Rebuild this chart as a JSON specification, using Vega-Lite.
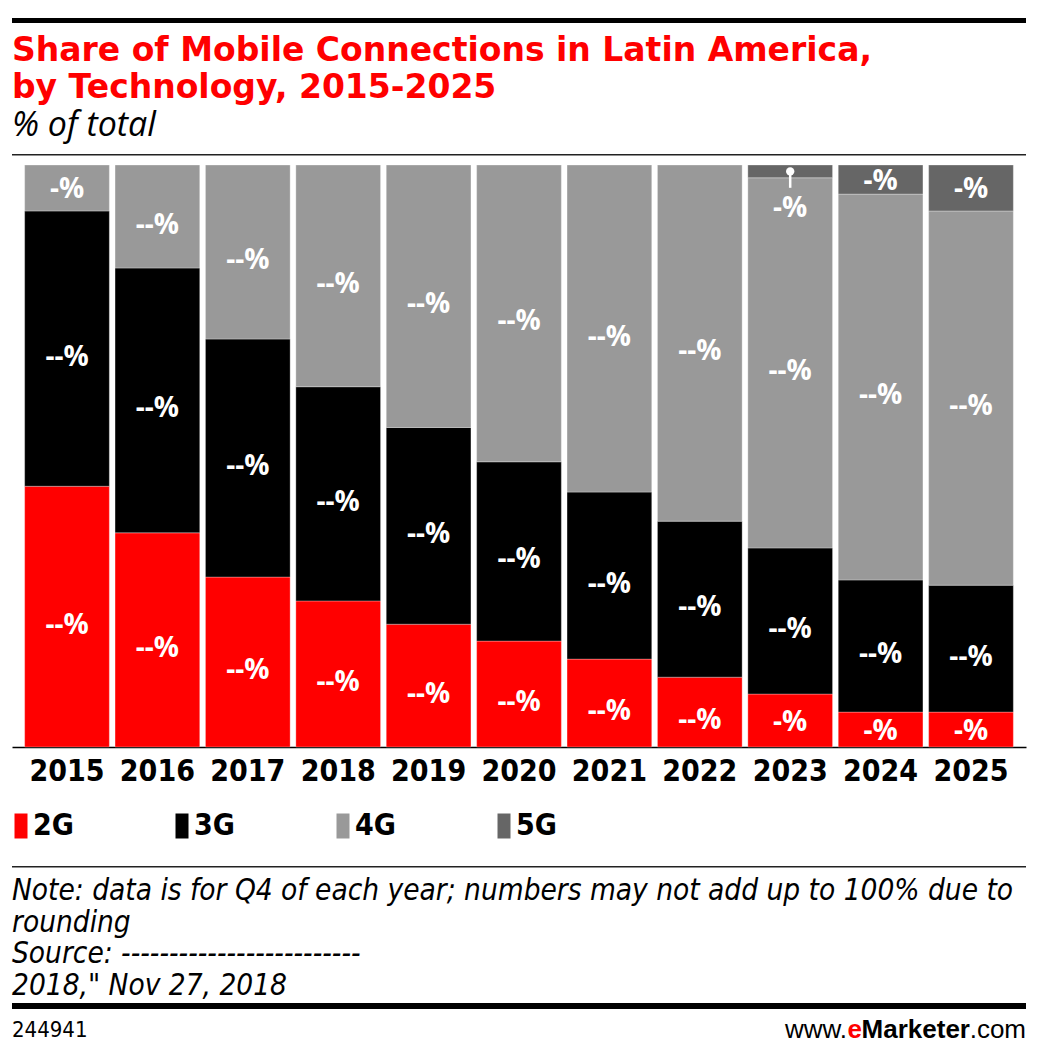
{
  "$schema": "https://vega.github.io/schema/vega-lite/v6.json",
  "padding": {"left": 12, "top": 14, "right": 12, "bottom": 0},
  "autosize": {"type": "pad"},
  "background": "#ffffff",
  "spacing": 8,
  "resolve": {"scale": {"color": "independent"}, "legend": {"color": "independent"}},
  "config": {"view": {"stroke": null}, "font": "'DejaVu Sans Condensed', Roboto, sans-serif"},
  "datasets": {
    "shares": [
      {"year": "2015", "tech": "2G", "share": 44.8, "label": "--%"},
      {"year": "2015", "tech": "3G", "share": 47.3, "label": "--%"},
      {"year": "2015", "tech": "4G", "share": 7.9, "label": "-%"},
      {"year": "2016", "tech": "2G", "share": 36.8, "label": "--%"},
      {"year": "2016", "tech": "3G", "share": 45.5, "label": "--%"},
      {"year": "2016", "tech": "4G", "share": 17.7, "label": "--%"},
      {"year": "2017", "tech": "2G", "share": 29.2, "label": "--%"},
      {"year": "2017", "tech": "3G", "share": 40.9, "label": "--%"},
      {"year": "2017", "tech": "4G", "share": 29.9, "label": "--%"},
      {"year": "2018", "tech": "2G", "share": 25.1, "label": "--%"},
      {"year": "2018", "tech": "3G", "share": 36.8, "label": "--%"},
      {"year": "2018", "tech": "4G", "share": 38.1, "label": "--%"},
      {"year": "2019", "tech": "2G", "share": 21.1, "label": "--%"},
      {"year": "2019", "tech": "3G", "share": 33.8, "label": "--%"},
      {"year": "2019", "tech": "4G", "share": 45.1, "label": "--%"},
      {"year": "2020", "tech": "2G", "share": 18.2, "label": "--%"},
      {"year": "2020", "tech": "3G", "share": 30.8, "label": "--%"},
      {"year": "2020", "tech": "4G", "share": 51.0, "label": "--%"},
      {"year": "2021", "tech": "2G", "share": 15.1, "label": "--%"},
      {"year": "2021", "tech": "3G", "share": 28.7, "label": "--%"},
      {"year": "2021", "tech": "4G", "share": 56.2, "label": "--%"},
      {"year": "2022", "tech": "2G", "share": 12.0, "label": "--%"},
      {"year": "2022", "tech": "3G", "share": 26.8, "label": "--%"},
      {"year": "2022", "tech": "4G", "share": 61.2, "label": "--%"},
      {"year": "2023", "tech": "2G", "share": 9.1, "label": "-%"},
      {"year": "2023", "tech": "3G", "share": 25.1, "label": "--%"},
      {"year": "2023", "tech": "4G", "share": 63.6, "label": "--%"},
      {"year": "2023", "tech": "5G", "share": 2.2, "label": "-%"},
      {"year": "2024", "tech": "2G", "share": 6.0, "label": "-%"},
      {"year": "2024", "tech": "3G", "share": 22.7, "label": "--%"},
      {"year": "2024", "tech": "4G", "share": 66.3, "label": "--%"},
      {"year": "2024", "tech": "5G", "share": 5.0, "label": "-%"},
      {"year": "2025", "tech": "2G", "share": 6.0, "label": "-%"},
      {"year": "2025", "tech": "3G", "share": 21.8, "label": "--%"},
      {"year": "2025", "tech": "4G", "share": 64.3, "label": "--%"},
      {"year": "2025", "tech": "5G", "share": 7.9, "label": "-%"}
    ]
  },
  "vconcat": [
    {
      "width": 1014,
      "height": 5,
      "view": {"fill": "#000000", "stroke": null},
      "data": {"values": [{}]},
      "mark": {"type": "text", "text": ""}
    },
    {
      "width": 1014,
      "height": 1.5,
      "view": {"fill": "#222222", "stroke": null},
      "title": {
        "text": ["Share of Mobile Connections in Latin America,", "by Technology, 2015-2025"],
        "subtitle": "% of total",
        "anchor": "start",
        "font": "DejaVu Sans",
        "fontSize": 33,
        "fontWeight": "bold",
        "color": "#ff0000",
        "lineHeight": 37,
        "subtitleFont": "Open Sans",
        "subtitleFontStyle": "italic",
        "subtitleFontSize": 34,
        "subtitleColor": "#000000",
        "subtitlePadding": 4,
        "offset": 11
      },
      "data": {"values": [{}]},
      "mark": {"type": "text", "text": "", "fontSize": 1}
    },
    {
      "width": 1014,
      "height": 582,
      "data": {"name": "shares"},
      "encoding": {
        "x": {
          "field": "year",
          "type": "nominal",
          "scale": {"paddingInner": 0.063, "paddingOuter": 0.14},
          "axis": {
            "title": null,
            "labelAngle": 0,
            "ticks": false,
            "domainColor": "#000000",
            "domainWidth": 1.5,
            "labelFont": "'DejaVu Sans Condensed', Roboto, sans-serif",
            "labelFontWeight": "bold",
            "labelFontSize": 30,
            "labelColor": "#000000",
            "labelPadding": 9
          }
        }
      },
      "layer": [
        {
          "mark": {"type": "bar", "stroke": "#ffffff", "strokeWidth": 0.6, "strokeOpacity": 0.5},
          "encoding": {
            "y": {"field": "share", "type": "quantitative", "stack": "normalize", "axis": null, "scale": {"domain": [0, 1], "nice": false}},
            "order": {"field": "tech", "sort": "ascending"},
            "color": {
              "field": "tech",
              "type": "nominal",
              "scale": {"domain": ["2G", "3G", "4G", "5G"], "range": ["#ff0000", "#000000", "#999999", "#666666"]},
              "legend": {
                "title": null,
                "orient": "bottom",
                "direction": "horizontal",
                "columns": 4,
                "columnPadding": 99,
                "offset": 25,
                "symbolType": "M-1,-1H0.04V1H-1Z",
                "symbolSize": 625,
                "symbolStrokeWidth": 0,
                "symbolOpacity": 1,
                "labelOffset": -9,
                "labelFont": "'DejaVu Sans Condensed', Roboto, sans-serif",
                "labelFontWeight": "bold",
                "labelFontSize": 30,
                "labelColor": "#000000"
              }
            }
          }
        },
        {
          "transform": [
            {"stack": "share", "groupby": ["year"], "sort": [{"field": "tech"}], "offset": "normalize", "as": ["y0", "y1"]},
            {"calculate": "(datum.y0 + datum.y1) / 2", "as": "ymid"},
            {"filter": "datum.share >= 10"}
          ],
          "mark": {"type": "text", "font": "Open Sans", "fontWeight": "bold", "fontSize": 28, "color": "#ffffff", "baseline": "middle", "dy": 9},
          "encoding": {
            "y": {"field": "ymid", "type": "quantitative"},
            "text": {"field": "label"}
          }
        },
        {
          "transform": [
            {"stack": "share", "groupby": ["year"], "sort": [{"field": "tech"}], "offset": "normalize", "as": ["y0", "y1"]},
            {"calculate": "(datum.y0 + datum.y1) / 2", "as": "ymid"},
            {"filter": "datum.share < 10 && !(datum.year == '2023' && datum.tech == '5G')"}
          ],
          "mark": {"type": "text", "font": "Open Sans", "fontWeight": "bold", "fontSize": 28, "color": "#ffffff", "baseline": "middle", "dy": 2},
          "encoding": {
            "y": {"field": "ymid", "type": "quantitative"},
            "text": {"field": "label"}
          }
        },
        {
          "transform": [
            {"stack": "share", "groupby": ["year"], "sort": [{"field": "tech"}], "offset": "normalize", "as": ["y0", "y1"]},
            {"calculate": "(datum.y0 + datum.y1) / 2", "as": "ymid"},
            {"filter": "datum.year == '2023' && datum.tech == '5G'"}
          ],
          "layer": [
            {
              "mark": {"type": "rule", "color": "#ffffff", "strokeWidth": 2.5, "y2Offset": 10},
              "encoding": {
                "y": {"field": "ymid", "type": "quantitative"},
                "y2": {"field": "y0"}
              }
            },
            {
              "mark": {"type": "point", "filled": true, "color": "#ffffff", "opacity": 1, "size": 70},
              "encoding": {"y": {"field": "ymid", "type": "quantitative"}}
            },
            {
              "mark": {"type": "text", "font": "Open Sans", "fontWeight": "bold", "fontSize": 28, "color": "#ffffff", "baseline": "middle", "dy": 38},
              "encoding": {
                "y": {"field": "ymid", "type": "quantitative"},
                "text": {"field": "label"}
              }
            }
          ]
        }
      ]
    },
    {
      "width": 1014,
      "height": 1.5,
      "view": {"fill": "#222222", "stroke": null},
      "title": {"text": " ", "fontSize": 2, "offset": 14},
      "data": {"values": [{}]},
      "mark": {"type": "text", "text": "", "fontSize": 1}
    },
    {
      "width": 1014,
      "height": 6,
      "view": {"fill": "#000000", "stroke": null},
      "title": {
        "text": [
          "Note: data is for Q4 of each year; numbers may not add up to 100% due to",
          "rounding",
          "Source: -------------------------",
          "2018,\" Nov 27, 2018"
        ],
        "anchor": "start",
        "font": "'DejaVu Sans Condensed', Roboto, sans-serif",
        "fontStyle": "italic",
        "fontWeight": "normal",
        "fontSize": 29.5,
        "lineHeight": 31.5,
        "color": "#000000",
        "offset": 2
      },
      "data": {"values": [{}]},
      "mark": {"type": "text", "text": "", "fontSize": 1}
    },
    {
      "width": 1014,
      "height": 20,
      "data": {"values": [{}]},
      "encoding": {},
      "layer": [
        {
          "mark": {"type": "text", "text": "244941", "align": "left", "baseline": "middle", "font": "'DejaVu Sans Condensed', Roboto, sans-serif", "fontSize": 22, "color": "#000000"},
          "encoding": {"x": {"datum": 0, "type": "quantitative", "scale": {"domain": [0, 1]}, "axis": null}}
        },
        {
          "mark": {"type": "text", "text": ".com", "align": "right", "baseline": "middle", "font": "Liberation Sans", "fontSize": 26, "color": "#000000"},
          "encoding": {"x": {"datum": 1, "type": "quantitative"}}
        },
        {
          "mark": {"type": "text", "text": "Marketer", "align": "right", "baseline": "middle", "font": "Liberation Sans", "fontWeight": "bold", "fontSize": 26, "color": "#000000", "dx": -56},
          "encoding": {"x": {"datum": 1, "type": "quantitative"}}
        },
        {
          "mark": {"type": "text", "text": "e", "align": "right", "baseline": "middle", "font": "Liberation Sans", "fontWeight": "bold", "fontSize": 26, "color": "#ff0000", "dx": -164},
          "encoding": {"x": {"datum": 1, "type": "quantitative"}}
        },
        {
          "mark": {"type": "text", "text": "www.", "align": "right", "baseline": "middle", "font": "Liberation Sans", "fontSize": 26, "color": "#000000", "dx": -179},
          "encoding": {"x": {"datum": 1, "type": "quantitative"}}
        }
      ]
    }
  ]
}
